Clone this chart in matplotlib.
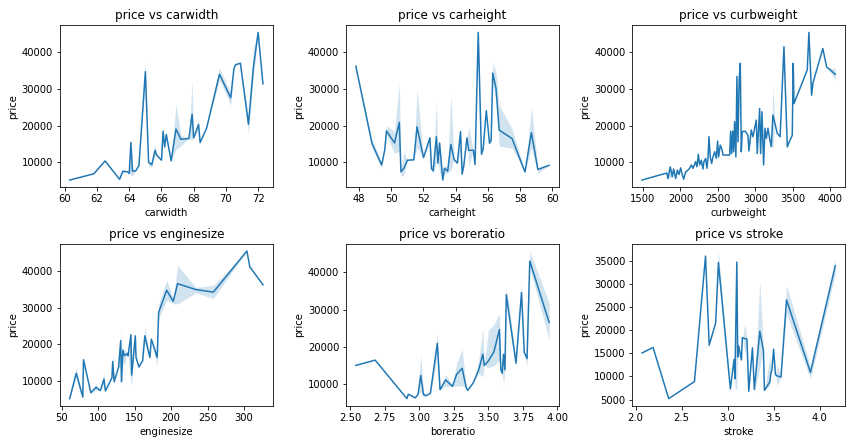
import matplotlib.pyplot as plt
import numpy as np

# mean price per value + visible confidence bands
carwidth = [60.3, 61.8, 62.5, 63.4, 63.6, 63.8, 63.9, 64.0, 64.1, 64.2, 64.4, 64.6, 65.0, 65.2,
            65.4, 65.6, 65.7, 66.0, 66.1, 66.2, 66.3, 66.6, 66.9, 67.2, 67.7, 67.9, 68.0, 68.3,
            68.4, 68.8, 69.6, 70.3, 70.5, 70.6, 70.9, 71.4, 71.7, 72.0, 72.3]
carwidth_price = [5200, 6900, 10400, 5400, 7600, 7500, 7400, 7000, 15400, 7600, 7700, 9100, 34700, 10000,
                  9400, 13300, 12000, 10600, 18500, 14200, 17600, 10400, 19100, 16300, 16500, 23100, 16700, 20300,
                  15400, 19300, 34000, 27600, 35600, 36600, 37000, 20400, 35600, 45400, 31400]
carwidth_ci_x = [63.6, 64.1, 64.2, 65.0, 65.2, 65.4, 65.6, 66.1, 66.9, 67.2, 67.9, 68.3, 69.6, 70.3, 71.4, 71.7]
carwidth_ci_lo = [7000, 6500, 6300, 33000, 9000, 8600, 12000, 16500, 13500, 14500, 16000, 19000, 32500, 25500, 17800, 33000]
carwidth_ci_hi = [8000, 16800, 8500, 37300, 10500, 10000, 14800, 18800, 26000, 17500, 32200, 22000, 35700, 29000, 22500, 41000]

carheight = [47.8, 48.8, 49.4, 49.6, 49.7, 50.2, 50.5, 50.6, 50.8, 51.0, 51.4, 51.6, 52.0, 52.4,
             52.5, 52.6, 52.8, 52.9, 53.0, 53.2, 53.3, 53.5, 53.7, 53.9, 54.1, 54.3, 54.4, 54.5,
             54.7, 54.8, 55.1, 55.2, 55.4, 55.6, 55.7, 55.9, 56.1, 56.2, 56.3, 56.5, 56.7, 57.5,
             58.3, 58.7, 59.1, 59.8]
carheight_price = [36200, 15200, 9300, 13500, 18600, 15300, 20900, 7400, 8500, 10600, 10700, 19700, 11300, 16700,
                   8300, 7700, 17000, 9800, 15300, 5200, 8400, 7600, 14900, 10800, 9800, 18400, 6800, 9000,
                   16700, 13300, 13300, 9400, 45400, 12200, 13500, 24100, 15200, 16000, 34300, 30200, 18800, 16500,
                   7400, 18100, 8100, 9200]
carheight_ci_x = [48.8, 49.4, 49.7, 50.2, 50.5, 50.6, 50.8, 51.6, 52.4, 52.6, 52.8, 53.0, 53.3, 53.5,
                  53.7, 54.3, 54.8, 56.3, 56.5, 56.7, 57.5, 58.7, 59.1]
carheight_ci_lo = [14000, 8500, 17500, 12500, 13000, 6200, 6500, 14000, 15500, 7000, 10000, 7500, 7000, 7000,
                   8000, 13000, 9000, 31500, 27000, 14500, 13800, 14000, 7000]
carheight_ci_hi = [16500, 10000, 20000, 18500, 31500, 8500, 13000, 30000, 17000, 8500, 26400, 15500, 9000, 9000,
                   28500, 18800, 19600, 37000, 34500, 25500, 19200, 25000, 8500]

curbweight = [1488, 1713, 1819, 1834, 1865, 1892, 1910, 1937, 1959, 1981, 2003, 2021, 2043, 2070,
              2101, 2123, 2146, 2168, 2203, 2221, 2239, 2257, 2279, 2301, 2314, 2337, 2354, 2368,
              2381, 2399, 2417, 2434, 2457, 2479, 2497, 2510, 2532, 2554, 2568, 2657, 2670, 2683,
              2697, 2710, 2723, 2740, 2754, 2768, 2785, 2799, 2812, 2825, 2865, 2901, 2914, 2945,
              2968, 2990, 3012, 3025, 3057, 3070, 3088, 3110, 3128, 3146, 3168, 3190, 3212, 3234,
              3261, 3292, 3330, 3381, 3426, 3450, 3492, 3505, 3515, 3692, 3714, 3750, 3770, 3900,
              3950, 4066]
curbweight_price = [5200, 6500, 7100, 5600, 8800, 6100, 8200, 5600, 7900, 6700, 8500, 7000, 5400, 7400,
                    7900, 8400, 9300, 8400, 10200, 8800, 12200, 9300, 10600, 8200, 10200, 11100, 8400, 11100,
                    17000, 11300, 9700, 11500, 12900, 11100, 15800, 11500, 14700, 13600, 12000, 12000, 18500, 12400,
                    18500, 12900, 21100, 11500, 33400, 15600, 33000, 37000, 12900, 18400, 18500, 17400, 13100, 18800,
                    17000, 19300, 21500, 12400, 24700, 12400, 23800, 9300, 19300, 16500, 19300, 16500, 14300, 22900,
                    20600, 17900, 17000, 41500, 14200, 15500, 17400, 37000, 26000, 35200, 45400, 28300, 31800, 41000,
                    36000, 34000]
curbweight_ci_x = [1865, 2754, 2799, 3234, 4066]
curbweight_ci_lo = [6000, 31000, 35500, 14000, 32500]
curbweight_ci_hi = [9000, 34000, 37800, 30800, 35500]

enginesize = [61, 70, 79, 80, 90, 97, 103, 108, 110, 119, 120, 122, 128, 131, 132, 134, 136, 140, 141,
              145, 146, 151, 152, 156, 161, 164, 171, 173, 181, 183, 194, 203, 209, 234, 258, 304, 308, 326]
enginesize_price = [5200, 12100, 5600, 15800, 6800, 8300, 7400, 10500, 7300, 10900, 15300, 9800, 13700, 21000,
                    9800, 18400, 16900, 17500, 16900, 22600, 11600, 22300, 16400, 13800, 15500, 22300, 16400, 21400,
                    16400, 28700, 34700, 31700, 36500, 34900, 34200, 45400, 41100, 36200]
enginesize_ci_x = [70, 97, 108, 120, 131, 132, 134, 136, 145, 146, 164, 181, 183, 194, 203, 209, 234, 258]
enginesize_ci_lo = [11000, 7500, 9200, 13000, 14000, 8000, 15500, 14000, 9600, 9000, 20000, 14000, 27000, 32000,
                    31000, 31000, 34000, 32500]
enginesize_ci_hi = [13500, 9200, 12200, 17500, 24000, 14000, 18800, 18500, 22800, 13000, 24800, 18000, 31000, 37500,
                    32500, 41500, 35500, 36000]

boreratio = [2.54, 2.68, 2.91, 2.92, 2.97, 2.99, 3.01, 3.03, 3.05, 3.08, 3.13, 3.15, 3.19, 3.24, 3.27,
             3.31, 3.34, 3.35, 3.39, 3.43, 3.46, 3.47, 3.50, 3.54, 3.58, 3.59, 3.60, 3.61, 3.62, 3.63,
             3.70, 3.74, 3.76, 3.78, 3.80, 3.94]
boreratio_price = [15100, 16500, 6200, 7400, 6400, 7300, 12400, 7300, 7000, 7600, 21000, 8600, 11200, 9500, 12700,
                   14300, 9100, 8400, 10400, 13900, 18100, 15100, 16300, 18700, 24700, 14000, 13000, 18100, 13900, 34000,
                   15700, 34600, 18600, 16900, 43000, 26600]
boreratio_ci_x = [3.01, 3.03, 3.13, 3.19, 3.24, 3.27, 3.31, 3.43, 3.46, 3.50, 3.54, 3.58, 3.61, 3.63,
                  3.70, 3.74, 3.78, 3.80, 3.94]
boreratio_ci_lo = [8000, 6500, 17500, 9500, 9400, 9600, 9600, 13000, 12000, 14500, 15000, 16500, 10000, 31000,
                   14700, 33000, 14800, 41000, 22000]
boreratio_ci_hi = [18000, 8000, 23500, 12700, 9700, 15700, 19400, 16500, 25000, 24500, 26000, 29000, 18500, 35800,
                   17000, 37200, 18000, 45700, 31800]

stroke = [2.07, 2.19, 2.36, 2.64, 2.76, 2.80, 2.87, 2.90, 3.03, 3.07, 3.08, 3.10, 3.11, 3.12, 3.15,
          3.16, 3.19, 3.21, 3.23, 3.27, 3.29, 3.35, 3.39, 3.40, 3.46, 3.47, 3.48, 3.50, 3.52, 3.54,
          3.58, 3.64, 3.90, 4.17]
stroke_price = [15100, 16300, 5200, 8900, 36100, 16800, 21600, 34700, 7300, 13700, 9500, 34800, 14200, 16600, 13600,
                18400, 18200, 18100, 6800, 16200, 7200, 19800, 15500, 7000, 8900, 10800, 11200, 15900, 10400, 10100,
                9900, 26600, 10900, 34000]
stroke_ci_x = [2.90, 3.08, 3.10, 3.19, 3.29, 3.35, 3.46, 3.50, 3.54, 3.64, 3.90, 4.17]
stroke_ci_lo = [32000, 7500, 7200, 15000, 6500, 12000, 8000, 14000, 8000, 23600, 9500, 32300]
stroke_ci_hi = [37200, 13700, 35000, 21500, 8000, 30600, 14500, 16500, 12500, 29800, 12200, 35600]

panels = [
    ('carwidth', carwidth, carwidth_price, carwidth_ci_x, carwidth_ci_lo, carwidth_ci_hi),
    ('carheight', carheight, carheight_price, carheight_ci_x, carheight_ci_lo, carheight_ci_hi),
    ('curbweight', curbweight, curbweight_price, curbweight_ci_x, curbweight_ci_lo, curbweight_ci_hi),
    ('enginesize', enginesize, enginesize_price, enginesize_ci_x, enginesize_ci_lo, enginesize_ci_hi),
    ('boreratio', boreratio, boreratio_price, boreratio_ci_x, boreratio_ci_lo, boreratio_ci_hi),
    ('stroke', stroke, stroke_price, stroke_ci_x, stroke_ci_lo, stroke_ci_hi),
]

fig, axes = plt.subplots(2, 3, figsize=(856 / 72, 442 / 72), dpi=72)
plt.subplots_adjust(left=0.0701, right=0.9871, top=0.9434, bottom=0.0814, wspace=0.346, hspace=0.346)

for ax, (name, x, y, cx, clo, chi) in zip(axes.flat, panels):
    lo = np.array(y, dtype=float)
    hi = np.array(y, dtype=float)
    for v, l, h in zip(cx, clo, chi):
        i = x.index(v)
        lo[i] = l
        hi[i] = h
    ax.fill_between(x, lo, hi, color='C0', alpha=0.2, linewidth=0)
    ax.plot(x, y, color='C0', linewidth=1.5)
    ax.set_title('price vs ' + name)
    ax.set_xlabel(name)
    ax.set_ylabel('price')

fig.savefig('out.png', dpi=72)
